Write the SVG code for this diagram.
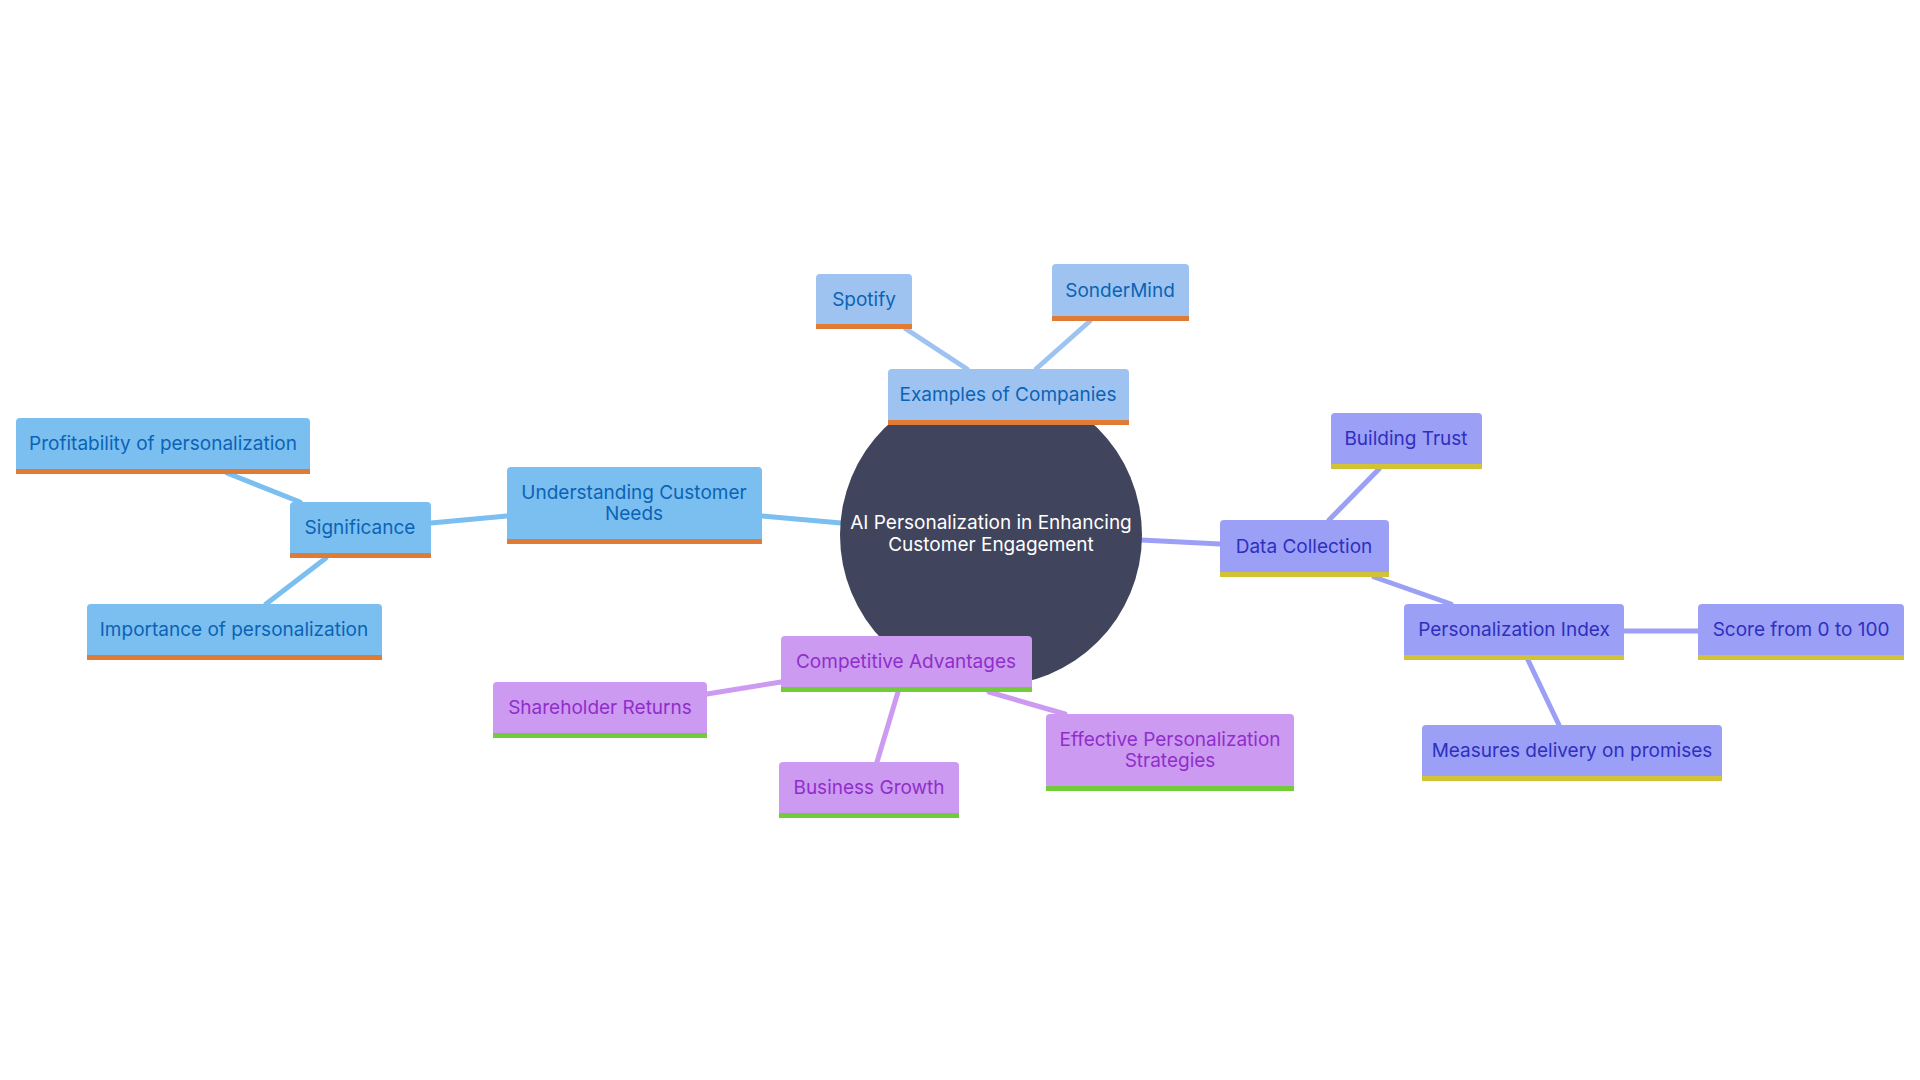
<svg xmlns="http://www.w3.org/2000/svg" width="1920" height="1080" viewBox="0 0 1920 1080">
<style>
text{font-family:Inter,"Noto Sans",sans-serif;font-size:19px;text-anchor:middle;dominant-baseline:central}
.b rect.f{fill:#7bbff1}.b text{fill:#0b63b5}.b rect.u{fill:#e07b35}
.e rect.f{fill:#9ec3f0}.e text{fill:#0b63b5}.e rect.u{fill:#e07b35}
.d rect.f{fill:#9b9ff5}.d text{fill:#2f2fbf}.d rect.u{fill:#d1c236}
.p rect.f{fill:#cd9af2}.p text{fill:#8f2fc9}.p rect.u{fill:#72cc3a}
#edges line{stroke-width:5;stroke-linecap:round}
</style>
<rect width="1920" height="1080" fill="#fff"/>
<g id="edges">
<line x1="841" y1="523" x2="762" y2="516" stroke="#7bbff1"/>
<line x1="507" y1="516" x2="431" y2="523" stroke="#7bbff1"/>
<line x1="300" y1="502" x2="227" y2="473" stroke="#7bbff1"/>
<line x1="326" y1="558" x2="266" y2="604" stroke="#7bbff1"/>
<line x1="967" y1="369" x2="906" y2="329" stroke="#9ec3f0"/>
<line x1="1036" y1="369" x2="1090" y2="321" stroke="#9ec3f0"/>
<line x1="1141" y1="540" x2="1220" y2="544" stroke="#9b9ff5"/>
<line x1="1329" y1="520" x2="1379" y2="469" stroke="#9b9ff5"/>
<line x1="1374" y1="577" x2="1451" y2="604" stroke="#9b9ff5"/>
<line x1="1624" y1="631" x2="1698" y2="631" stroke="#9b9ff5"/>
<line x1="1528" y1="660" x2="1559" y2="725" stroke="#9b9ff5"/>
<line x1="781" y1="682" x2="707" y2="694" stroke="#cd9af2"/>
<line x1="898" y1="692" x2="877" y2="762" stroke="#cd9af2"/>
<line x1="989" y1="692" x2="1065" y2="714" stroke="#cd9af2"/>
</g>
<g id="root"><circle cx="991" cy="535" r="151" fill="#40445c"/>
<text x="991" y="522" fill="#fff">AI Personalization in Enhancing</text><text x="991" y="544" fill="#fff">Customer Engagement</text></g>
<g id="ucn" class="b"><rect class="f" x="507" y="467" width="255" height="77" rx="4"/><rect class="u" x="507" y="539" width="255" height="5"/><text x="634" y="492">Understanding Customer</text><text x="634" y="513">Needs</text></g>
<g id="sig" class="b"><rect class="f" x="290" y="502" width="141" height="56" rx="4"/><rect class="u" x="290" y="553" width="141" height="5"/><text x="360" y="527">Significance</text></g>
<g id="prof" class="b"><rect class="f" x="16" y="418" width="294" height="56" rx="4"/><rect class="u" x="16" y="469" width="294" height="5"/><text x="163" y="443">Profitability of personalization</text></g>
<g id="imp" class="b"><rect class="f" x="87" y="604" width="295" height="56" rx="4"/><rect class="u" x="87" y="655" width="295" height="5"/><text x="234" y="629">Importance of personalization</text></g>
<g id="ex" class="e"><rect class="f" x="888" y="369" width="241" height="56" rx="4"/><rect class="u" x="888" y="420" width="241" height="5"/><text x="1008" y="394">Examples of Companies</text></g>
<g id="spot" class="e"><rect class="f" x="816" y="274" width="96" height="55" rx="4"/><rect class="u" x="816" y="324" width="96" height="5"/><text x="864" y="299">Spotify</text></g>
<g id="sonder" class="e"><rect class="f" x="1052" y="264" width="137" height="57" rx="4"/><rect class="u" x="1052" y="316" width="137" height="5"/><text x="1120" y="290">SonderMind</text></g>
<g id="dc" class="d"><rect class="f" x="1220" y="520" width="169" height="57" rx="4"/><rect class="u" x="1220" y="572" width="169" height="5"/><text x="1304" y="546">Data Collection</text></g>
<g id="bt" class="d"><rect class="f" x="1331" y="413" width="151" height="56" rx="4"/><rect class="u" x="1331" y="464" width="151" height="5"/><text x="1406" y="438">Building Trust</text></g>
<g id="pi" class="d"><rect class="f" x="1404" y="604" width="220" height="56" rx="4"/><rect class="u" x="1404" y="655" width="220" height="5"/><text x="1514" y="629">Personalization Index</text></g>
<g id="score" class="d"><rect class="f" x="1698" y="604" width="206" height="56" rx="4"/><rect class="u" x="1698" y="655" width="206" height="5"/><text x="1801" y="629">Score from 0 to 100</text></g>
<g id="meas" class="d"><rect class="f" x="1422" y="725" width="300" height="56" rx="4"/><rect class="u" x="1422" y="776" width="300" height="5"/><text x="1572" y="750">Measures delivery on promises</text></g>
<g id="ca" class="p"><rect class="f" x="781" y="636" width="251" height="56" rx="4"/><rect class="u" x="781" y="687" width="251" height="5"/><text x="906" y="661">Competitive Advantages</text></g>
<g id="sh" class="p"><rect class="f" x="493" y="682" width="214" height="56" rx="4"/><rect class="u" x="493" y="733" width="214" height="5"/><text x="600" y="707">Shareholder Returns</text></g>
<g id="bg" class="p"><rect class="f" x="779" y="762" width="180" height="56" rx="4"/><rect class="u" x="779" y="813" width="180" height="5"/><text x="869" y="787">Business Growth</text></g>
<g id="eff" class="p"><rect class="f" x="1046" y="714" width="248" height="77" rx="4"/><rect class="u" x="1046" y="786" width="248" height="5"/><text x="1170" y="739">Effective Personalization</text><text x="1170" y="760">Strategies</text></g>
</svg>
